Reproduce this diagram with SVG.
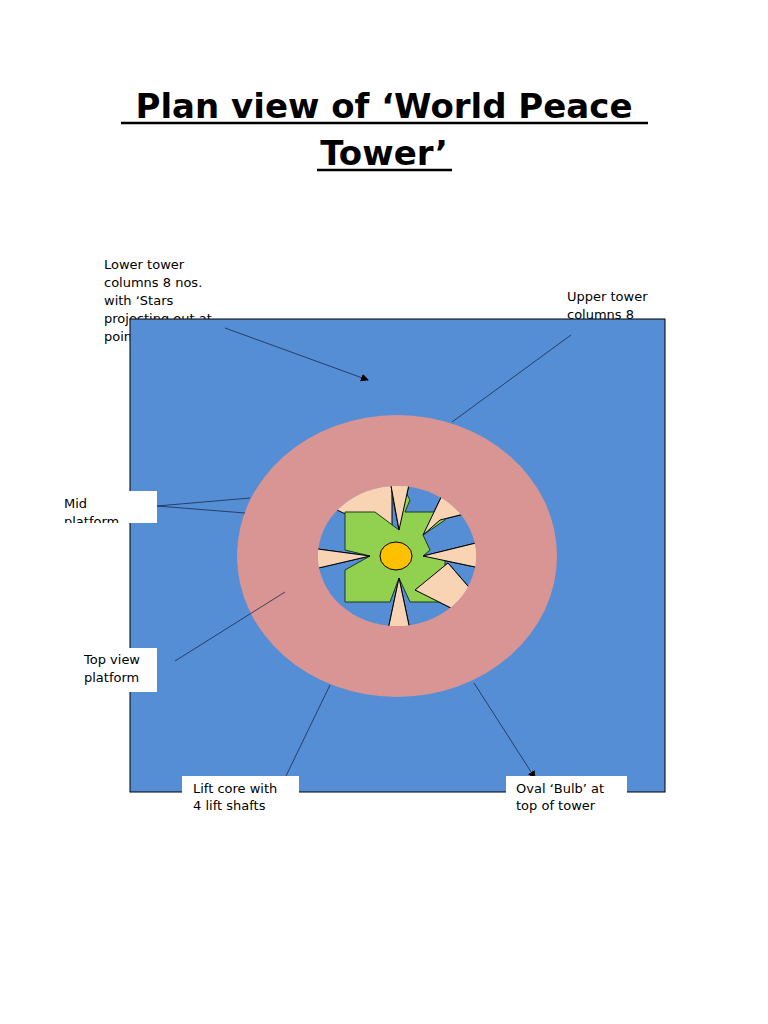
<svg xmlns="http://www.w3.org/2000/svg" width="768" height="1024" viewBox="0 0 768 1024">
<defs>
<style>
text{font-family:"DejaVu Sans",sans-serif;font-size:13px;fill:#000}
.c{stroke:#1a2a4a;stroke-width:0.8;fill:none}
.pe{fill:#f8d4b4;stroke:#000;stroke-width:1}
</style>
<marker id="a" markerWidth="8" markerHeight="8" refX="7" refY="4" orient="auto" markerUnits="userSpaceOnUse"><path d="M0,0L8,4L0,8z" fill="#000"/></marker>
<clipPath id="hole"><ellipse cx="397" cy="556" rx="79" ry="70"/></clipPath>
<clipPath id="mid"><rect x="52" y="491" width="105" height="32"/></clipPath>
</defs>
<rect width="768" height="1024" fill="#fff"/>
<g id="title" font-weight="bold">
<text x="384" y="118" text-anchor="middle" style="font-size:34px">Plan view of ‘World Peace</text>
<text x="384" y="165" text-anchor="middle" style="font-size:34px">Tower’</text>
<line x1="121" y1="123" x2="648" y2="123" stroke="#000" stroke-width="2.5"/>
<line x1="317" y1="170" x2="452" y2="170" stroke="#000" stroke-width="2.5"/>
</g>
<g id="lower-label"><text x="104" y="269">Lower tower</text><text x="104" y="287">columns 8 nos.</text><text x="104" y="305">with ‘Stars</text><text x="104" y="323">projecting out at</text><text x="104" y="341">points</text></g>
<g id="upper-label"><text x="567" y="301">Upper tower</text><text x="567" y="319">columns 8</text></g>
<g id="site"><rect x="130" y="319" width="535" height="473" fill="#558ed5" stroke="#000" stroke-width="1"/></g>
<g id="ring"><ellipse cx="397" cy="556" rx="160" ry="141" fill="#d99594"/><ellipse cx="397" cy="556" rx="79" ry="70" fill="#558ed5"/></g>
<g id="core" clip-path="url(#hole)">
<polygon class="pe" points="330,480 392,480 392,530 375,528 337,510"/>
<polygon class="pe" points="390,480 410,480 399,530"/>
<polygon class="pe" points="447,485 480,510 440,520 423,535"/>
<polygon class="pe" points="310,548 370,556 310,570"/>
<polygon class="pe" points="480,542 423,556 480,568"/>
<polygon class="pe" points="448,563 480,600 455,610 415,590"/>
<polygon class="pe" points="388,630 399,578 410,630"/>
<polygon points="345,512 375,512 399,530 392,495 399,480 410,500 405,512 445,512 445,520 423,535 430,550 423,556 445,556 445,570 415,590 445,602 410,602 399,578 390,602 345,602 345,570 370,556 345,550" fill="#92d050" stroke="#1a3a1a" stroke-width="1"/>
<polygon class="pe" points="390,480 410,480 399,530"/>
<polygon class="pe" points="388,630 399,578 410,630"/>
<polygon class="pe" points="310,548 370,556 310,570"/>
<polygon class="pe" points="480,542 423,556 480,568"/>
<polygon class="pe" points="447,485 480,510 440,520 423,535"/>
<polygon class="pe" points="448,563 480,600 455,610 415,590"/>
<ellipse cx="396" cy="556" rx="16" ry="14" fill="#ffc000" stroke="#000" stroke-width="1"/>
</g>
<g id="connectors">
<line class="c" x1="225" y1="328" x2="368" y2="380" marker-end="url(#a)"/>
<line class="c" x1="571" y1="335" x2="452" y2="422"/>
<line class="c" x1="157" y1="506" x2="250" y2="498"/>
<line class="c" x1="157" y1="506" x2="245" y2="513"/>
<line class="c" x1="175" y1="661" x2="285" y2="592"/>
<line class="c" x1="286" y1="776" x2="330" y2="685"/>
<line class="c" x1="474" y1="683" x2="535" y2="778" marker-end="url(#a)"/>
</g>
<g id="mid-label"><rect x="52" y="491" width="105" height="32" fill="#fff"/><g clip-path="url(#mid)"><text x="64" y="508">Mid</text><text x="64" y="526">platform</text></g></g>
<g id="top-label"><rect x="75" y="648" width="82" height="44" fill="#fff"/><text x="84" y="664">Top view</text><text x="84" y="682">platform</text></g>
<g id="lift-label"><rect x="182" y="776" width="117" height="42" fill="#fff"/><text x="193" y="793">Lift core with</text><text x="193" y="810">4 lift shafts</text></g>
<g id="bulb-label"><rect x="506" y="776" width="121" height="42" fill="#fff"/><text x="516" y="793">Oval ‘Bulb’ at</text><text x="516" y="810">top of tower</text></g>
</svg>
